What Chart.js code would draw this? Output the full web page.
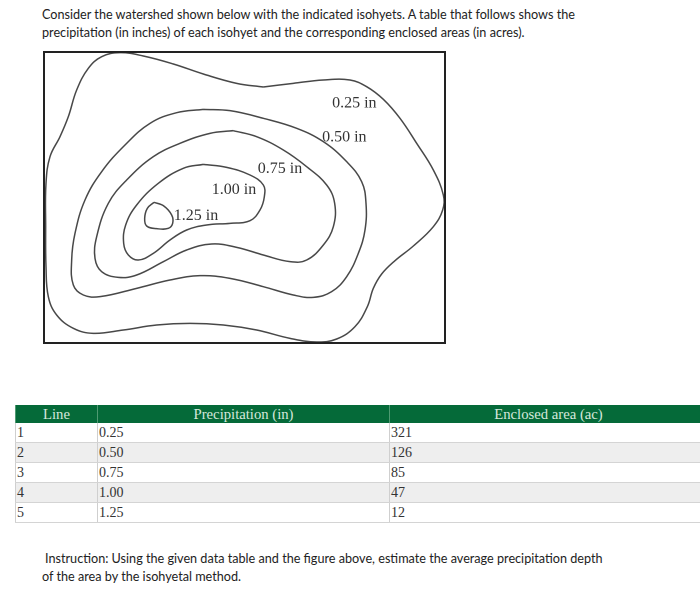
<!DOCTYPE html>
<html>
<head>
<meta charset="utf-8">
<script src="https://cdn.jsdelivr.net/npm/chart.js@4"></script>
<style>
    html, body { margin: 0; padding: 0; background: #fff; }
    body { position: relative; width: 700px; height: 602px; overflow: hidden; }
    .note { position: absolute; font-family: Lato, sans-serif; font-size: 12.65px; line-height: 18px; color: #222; white-space: nowrap; }
    #map { position: absolute; left: 43px; top: 51px; }
    #frame { position: absolute; left: 43px; top: 51px; width: 399px; height: 289px; border: 2px solid #222; }
    #table { position: absolute; left: 15px; top: 405px; width: 685px; border-collapse: collapse; table-layout: fixed; font-family: "Liberation Serif", serif; font-size: 14px; color: #333; }
    #table th { background: #056a39; color: #d5e8dc; font-weight: normal; font-size: 14.7px; height: 18px; padding: 0; border-left: 1px solid #4f9a72; }
    #table th:last-child { padding-left: 7px; }
    #table td { height: 18.8px; padding: 1px 0 0 1px; box-sizing: border-box; border-left: 1px solid #cfcfcf; border-bottom: 1px solid #d4d4d4; line-height: 18px; }
    #table tr:nth-child(even) td { background: #eeeeee; }
</style>
</head>
<body>
<div class="note" style="left:42px;top:6px">Consider the watershed shown below with the indicated isohyets. A table that follows shows the</div>
<div class="note" style="left:42px;top:24px">precipitation (in inches) of each isohyet and the corresponding enclosed areas (in acres).</div>
<canvas id="map" width="403" height="292"></canvas>
<div id="frame"></div>
<table id="table"><colgroup><col style="width:82px"><col style="width:292px"><col></colgroup><thead></thead><tbody></tbody></table>
<div class="note" style="left:45px;top:550px">Instruction: Using the given data table and the figure above, estimate the average precipitation depth</div>
<div class="note" style="left:42px;top:568px">of the area by the isohyetal method.</div>
<script>
// ---- Isohyet outlines ----
const line025 = [[700,141],[790,130],[880,120],[960,120],[1010,140],[1060,178],[1110,235],[1160,310],[1210,390],[1240,465],[1238,510],[1210,560],[1150,618],[1095,662],[1055,702],[1030,745],[1012,800],[975,860],[920,897],[860,906],[780,895],[680,870],[580,855],[480,850],[380,855],[280,870],[190,880],[130,865],[80,825],[55,770],[48,680],[47,560],[48,430],[60,350],[90,290],[115,230],[140,150],[175,85],[215,50],[270,38],[340,48],[430,72],[520,102],[620,130],[700,141]];
const line050 = [[520,208],[600,212],[700,235],[800,265],[880,305],[950,365],[995,425],[1008,490],[1005,570],[985,640],[950,710],[905,755],[850,772],[790,765],[700,740],[600,715],[510,707],[420,720],[320,745],[210,770],[160,765],[130,735],[125,660],[135,580],[165,480],[215,395],[285,315],[360,250],[440,218],[520,208]];
const line075 = [[610,272],[680,290],[760,330],[830,380],[890,435],[914,490],[910,560],[880,615],[830,660],[780,665],[700,645],[620,622],[545,612],[470,630],[400,665],[320,705],[265,712],[215,695],[195,655],[200,590],[235,490],[290,420],[370,350],[450,310],[540,280],[610,272]];
const line100 = [[520,373],[590,382],[660,405],[700,435],[703,470],[690,510],[660,542],[600,550],[530,555],[470,570],[420,600],[370,640],[325,660],[295,645],[281,610],[287,555],[320,495],[385,430],[460,385],[520,373]];
const line125 = [[372,487],[400,497],[425,525],[428,550],[415,565],[380,566],[350,558],[344,535],[352,505],[372,487]];

const isohyets = [line025, line050, line075, line100, line125];
const labelText = ['0.25 in', '0.50 in', '0.75 in', '1.00 in', '1.25 in'];
const labelSpots = [[973,190],[943,292],[750,386],[612,449],[498,527]];

// ---- Table ----
const headers = ['Line', 'Precipitation (in)', 'Enclosed area (ac)'];
const lineNumbers = [1, 2, 3, 4, 5];
const precipitation = ['0.25', '0.50', '0.75', '1.00', '1.25'];
const enclosedArea = [321, 126, 85, 47, 12];

document.querySelector('#table thead').innerHTML =
    '<tr>' + headers.map(h => `<th>${h}</th>`).join('') + '</tr>';
document.querySelector('#table tbody').innerHTML = lineNumbers.map((n, i) =>
    `<tr><td>${n}</td><td>${precipitation[i]}</td><td>${enclosedArea[i]}</td></tr>`).join('');

// labels sit on the map, placed through the scales
const isohyetLabels = {
    id: 'isohyetLabels',
    afterDatasetsDraw(chart) {
        const { ctx, scales } = chart;
        ctx.save();
        ctx.font = '16px "Liberation Serif"';
        ctx.fillStyle = '#333';
        ctx.textAlign = 'center';
        ctx.textBaseline = 'middle';
        labelText.forEach((t, i) => {
            ctx.fillText(t, scales.x.getPixelForValue(labelSpots[i][0]), scales.y.getPixelForValue(labelSpots[i][1]));
        });
        ctx.restore();
    }
};

new Chart(document.getElementById('map').getContext('2d'), {
    type: 'scatter',
    data: {
        datasets: isohyets.map((pts, i) => ({
            label: labelText[i],
            data: pts.map(p => ({ x: p[0], y: p[1] })),
            showLine: true,
            tension: 0.4,
            borderColor: '#484848',
            borderWidth: 1.5,
            pointRadius: 0,
            clip: false
        }))
    },
    options: {
        responsive: false,
        animation: false,
        devicePixelRatio: 2,
        layout: { padding: 0 },
        plugins: { legend: { display: false }, tooltip: { enabled: false } },
        scales: {
            x: { display: false, min: 39, max: 1248 },
            y: { display: false, min: 33, max: 909, reverse: true }
        }
    },
    plugins: [isohyetLabels]
});
</script>
</body>
</html>
